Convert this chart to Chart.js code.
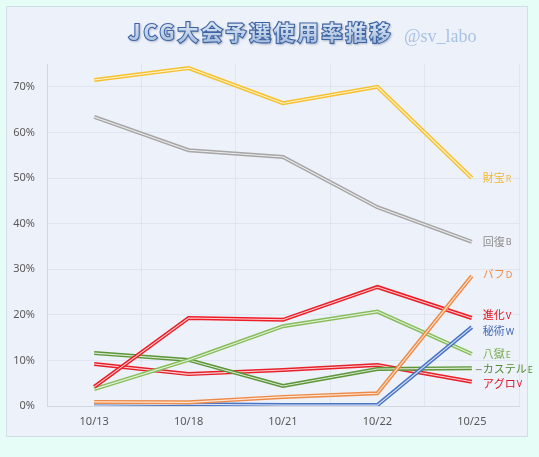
<!DOCTYPE html>
<html>
<head>
<meta charset="utf-8">
<script src="https://cdn.jsdelivr.net/npm/chart.js@4/dist/chart.umd.min.js"></script>
<style>
html,body{margin:0;padding:0;background:#e6fcf7;}
#wrap{width:539px;height:457px;position:relative;}
</style>
</head>
<body>
<div id="wrap"><canvas id="c" width="539" height="457"></canvas></div>
<script>
const categories = ['10/13','10/18','10/21','10/22','10/25'];
const zaihouR    = [71.5, 74.1, 66.4, 70.0, 50.0];
const kaifukuB   = [63.4, 56.1, 54.6, 43.6, 36.0];
const buffD      = [0.9, 0.8, 2.0, 2.8, 28.5];
const shinkaV    = [4.2, 19.3, 18.9, 26.1, 19.3];
const hijutsuW   = [0.2, 0.4, 0.2, 0.2, 17.3];
const hachigokuE = [3.7, 10.1, 17.5, 20.7, 11.4];
const castelleE  = [11.6, 10.1, 4.4, 8.1, 8.3];
const aggroV     = [9.2, 7.0, 7.9, 9.0, 5.3];
const yTicks = [0, 10, 20, 30, 40, 50, 60, 70];

function ds(name, suffix, data, color, dy, leader) {
  return { label: name + suffix, name, suffix, data, borderColor: color, backgroundColor: color,
    borderWidth: 4, pointRadius: 0, tension: 0, labelDy: dy || 0, leader: !!leader };
}
const datasets = [
  ds('財宝', 'R', zaihouR, '#f6c12c', 0),
  ds('回復', 'B', kaifukuB, '#a6a6a6', 0),
  ds('バフ', 'D', buffD, '#ef8a45', -2),
  ds('進化', 'V', shinkaV, '#ee1c25', -3),
  ds('秘術', 'W', hijutsuW, '#4a74c6', 4),
  ds('八獄', 'E', hachigokuE, '#86bd5a', 0),
  ds('カステル', 'E', castelleE, '#5b9637', 1, true),
  ds('アグロ', 'V', aggroV, '#e8202a', 2)
];
const labelColors = {'財宝R':'#f2b92a','回復B':'#8c8c8c','バフD':'#ef8a45','進化V':'#e8101c','秘術W':'#4169b8','八獄E':'#78ad4e','カステルE':'#4f8a30','アグロV':'#e01020'};

const bgPlugin = {
  id: 'bg',
  beforeDraw(chart) {
    const ctx = chart.ctx;
    ctx.save();
    ctx.fillStyle = '#e6fcf7';
    ctx.fillRect(0, 0, chart.width, chart.height);
    ctx.fillStyle = '#edf1f9';
    ctx.fillRect(6, 6, 522, 431);
    ctx.strokeStyle = '#d3dfe6';
    ctx.lineWidth = 1;
    ctx.strokeRect(6.5, 6.5, 521, 430);
    ctx.restore();
  }
};

const doubleLine = {
  id: 'doubleLine',
  afterDatasetDraw(chart, args) {
    const pts = args.meta.data;
    const ctx = chart.ctx;
    ctx.save();
    ctx.strokeStyle = 'rgba(255,255,255,0.8)';
    ctx.lineWidth = 1.1;
    ctx.lineJoin = 'miter';
    ctx.beginPath();
    pts.forEach((p, i) => { if (i === 0) ctx.moveTo(p.x, p.y); else ctx.lineTo(p.x, p.y); });
    ctx.stroke();
    ctx.restore();
  }
};

const endLabels = {
  id: 'endLabels',
  afterDatasetsDraw(chart) {
    const ctx = chart.ctx;
    ctx.save();
    ctx.textBaseline = 'middle';
    chart.data.datasets.forEach((d, i) => {
      const meta = chart.getDatasetMeta(i);
      const p = meta.data[meta.data.length - 1];
      const x = p.x + 10, y = p.y + d.labelDy;
      const col = labelColors[d.label];
      if (d.leader) {
        ctx.strokeStyle = '#8c8c8c';
        ctx.lineWidth = 1;
        ctx.beginPath(); ctx.moveTo(p.x + 4, y + 0.5); ctx.lineTo(x, y + 0.5); ctx.stroke();
      }
      ctx.fillStyle = col;
      ctx.font = '11px "Noto Sans CJK JP"';
      ctx.textAlign = 'left';
      ctx.fillText(d.name, x + 1, y);
      const w = ctx.measureText(d.name).width;
      ctx.font = '9px "Noto Sans"';
      ctx.fillText(d.suffix, x + 2 + w, y + 1);
    });
    ctx.restore();
  }
};

const titlePlugin = {
  id: 'titleArt',
  afterDraw(chart) {
    const ctx = chart.ctx;
    ctx.save();
    ctx.font = 'bold 21px "Noto Sans CJK JP"';
    ctx.letterSpacing = '3px';
    ctx.textAlign = 'center';
    ctx.textBaseline = 'middle';
    const t = 'JCG大会予選使用率推移';
    ctx.shadowColor = 'rgba(60,80,120,0.35)';
    ctx.shadowBlur = 2; ctx.shadowOffsetX = 1; ctx.shadowOffsetY = 1;
    ctx.lineWidth = 2.2;
    ctx.strokeStyle = '#3d64a3';
    ctx.strokeText(t, 261, 32);
    ctx.shadowColor = 'transparent';
    const g = ctx.createLinearGradient(0, 22, 0, 42);
    g.addColorStop(0, '#dfe8f5'); g.addColorStop(1, '#a9bfdd');
    ctx.fillStyle = g;
    ctx.fillText(t, 261, 32);
    ctx.letterSpacing = '0px';
    ctx.font = '18px "Liberation Serif"';
    ctx.fillStyle = '#a8c2e6';
    ctx.textAlign = 'left';
    ctx.fillText('@sv_labo', 404, 37);
    ctx.restore();
  }
};

new Chart(document.getElementById('c'), {
  type: 'line',
  data: { labels: categories, datasets },
  options: {
    responsive: false,
    animation: false,
    devicePixelRatio: 1,
    layout: { padding: { left: 0, right: 20, top: 64, bottom: 0 } },
    plugins: { legend: { display: false }, tooltip: { enabled: false } },
    scales: {
      x: {
        offset: true,
        grid: { offset: true, color: 'rgba(212,220,233,0.5)', drawTicks: false },
        border: { color: '#d3d8e0' },
        ticks: { color: '#595959', font: { family: 'Noto Sans', size: 11 }, padding: 9 },
        afterFit(s) { s.height = 51; }
      },
      y: {
        min: 0, max: 75,
        afterBuildTicks(s) { s.ticks = yTicks.map(v => ({ value: v })); },
        grid: { color: 'rgba(212,220,233,0.5)', drawTicks: false },
        border: { color: '#d3d8e0' },
        ticks: { color: '#595959', font: { family: 'Noto Sans', size: 11 }, padding: 12, callback: v => v + '%' },
        afterFit(s) { s.width = 47; }
      }
    }
  },
  plugins: [bgPlugin, doubleLine, endLabels, titlePlugin]
});
</script>
</body>
</html>
